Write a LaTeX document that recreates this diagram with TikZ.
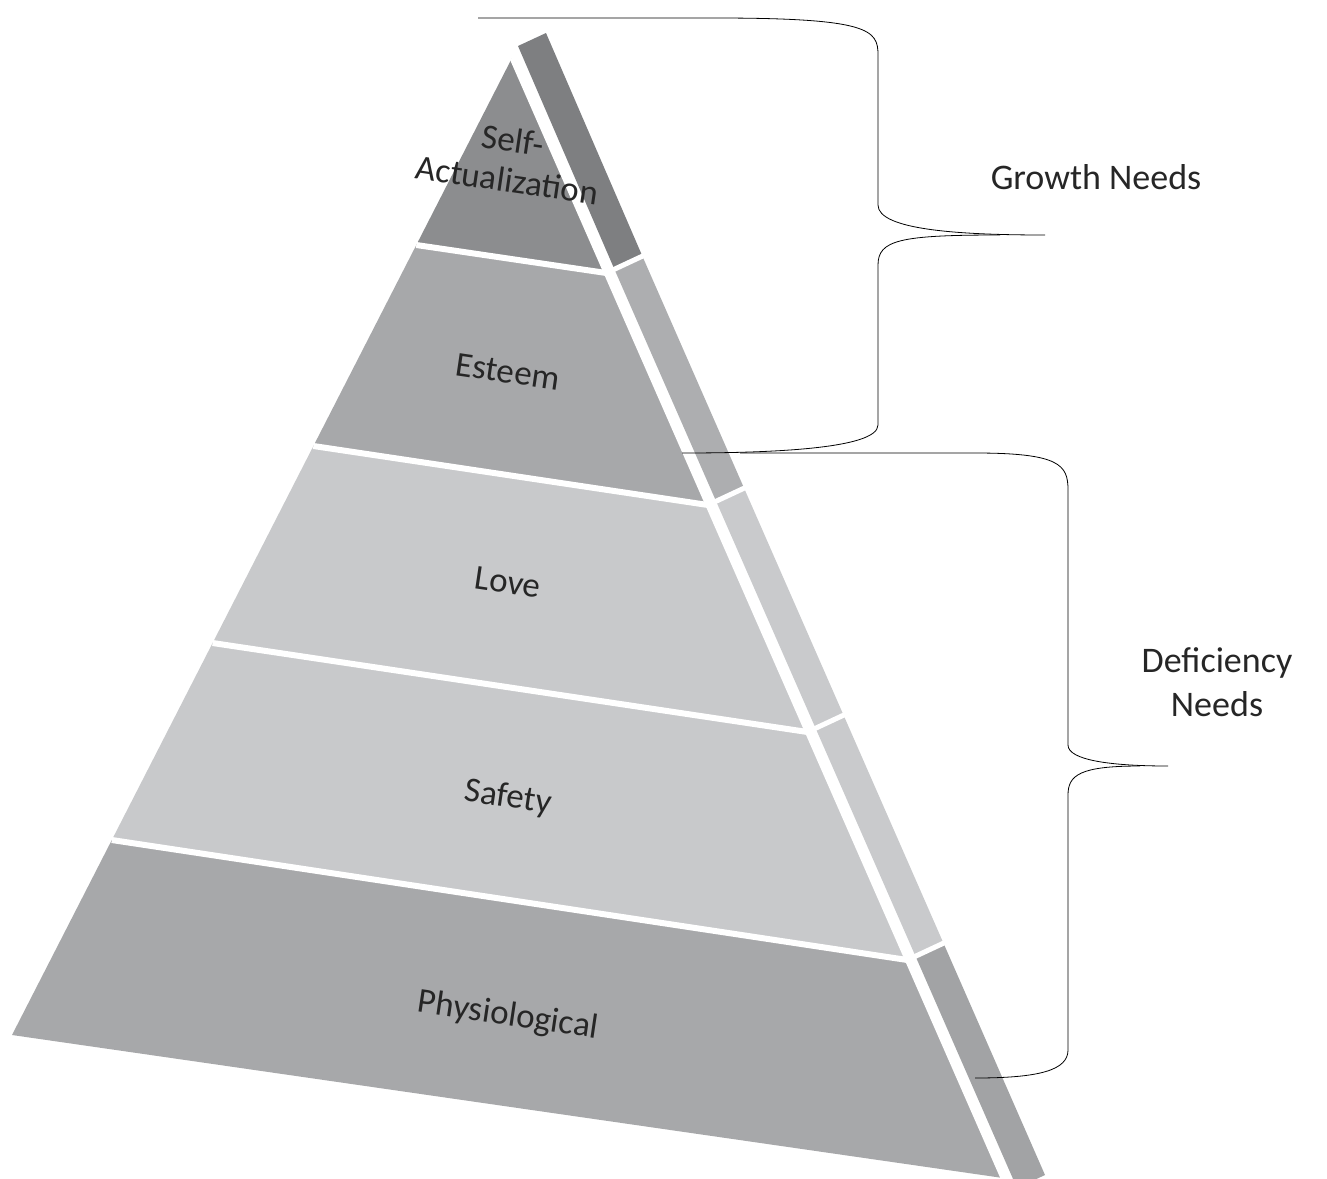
\documentclass[tikz,border=0pt]{standalone}
\usepackage{fontspec}
\setmainfont{Carlito}
\usetikzlibrary{calc}
\begin{document}
\begin{tikzpicture}[x=1pt,y=-1pt,
  gap/.style={white,line width=6pt},
  brace/.style={black,line width=0.8pt},
  lbl/.style={font=\fontsize{35}{36}\selectfont,text=black!85,rotate=-8.4,align=center,inner sep=0pt},
  side/.style={font=\fontsize{36}{44}\selectfont,text=black!85,align=center}]
\useasboundingbox (0,0) rectangle (1327,1178);
\definecolor{c1}{HTML}{8C8D8F}\definecolor{c2}{HTML}{A7A8AA}\definecolor{c3}{HTML}{C8C9CB}
\definecolor{s1}{HTML}{7E7F81}\definecolor{s2}{HTML}{ADAEB0}\definecolor{s3}{HTML}{C9CACC}\definecolor{s5}{HTML}{A2A3A5}
% front bands
\coordinate (A) at (512,58);
\coordinate (L1) at (416.3,245); \coordinate (R1) at (606.3,273);
\coordinate (L2) at (313.4,446); \coordinate (R2) at (708,505);
\coordinate (L3) at (212.6,643); \coordinate (R3) at (807.5,732);
\coordinate (L4) at (111.8,840); \coordinate (R4) at (907.4,960);
\coordinate (L5) at (12,1035); \coordinate (R5) at (1003,1178);
\fill[c1] (A) -- (L1) -- (R1) -- cycle;
\fill[c2] (L1) -- (L2) -- (R2) -- (R1) -- cycle;
\fill[c3] (L2) -- (L3) -- (R3) -- (R2) -- cycle;
\fill[c3] (L3) -- (L4) -- (R4) -- (R3) -- cycle;
\fill[c2] (L4) -- (L5) -- (R5) -- (R4) -- cycle;
% side strip
\fill[s1] ($(A)+(6,-12)$) -- ($(A)+(34,-25)$) -- ($(R1)+(36,-17)$) -- ($(R1)+(8,-4)$) -- cycle;
\fill[s2] ($(R1)+(8,-4)$) -- ($(R1)+(36,-17)$) -- ($(R2)+(36,-17)$) -- ($(R2)+(8,-4)$) -- cycle;
\fill[s3] ($(R2)+(8,-4)$) -- ($(R2)+(36,-17)$) -- ($(R4)+(36,-17)$) -- ($(R4)+(8,-4)$) -- cycle;
\fill[s5] ($(R4)+(8,-4)$) -- ($(R4)+(36,-17)$) -- ($(R5)+(42,-3)$) -- ($(R5)+(14,10)$) -- cycle;
% gaps
\draw[gap] (L1) -- (R1); \draw[gap] (L2) -- (R2); \draw[gap] (L3) -- (R3); \draw[gap] (L4) -- (R4);
\draw[gap,line width=5pt] (A) -- (R5);
\foreach \p in {R1,R2,R3,R4} \draw[gap,line width=5pt] (\p) -- ($(\p)+(45,-21)$);
% labels
\node[lbl] (t1) at (510,160) {Self-\\[4pt]Actualization};
\node[lbl] (t2) at (508,372) {Esteem};
\node[lbl] (t3) at (508,582) {Love};
\node[lbl] (t4) at (508,798) {Safety};
\node[lbl] (t5) at (508,1016) {Physiological};
% braces
\draw[brace] (478,18) -- (715,18) .. controls (870,18) and (878,30) .. (878,55) -- (878,205)
  .. controls (878,230) and (960,235) .. (1045,235);
\draw[brace] (1000,235) .. controls (900,235) and (878,240) .. (878,265) -- (878,425)
  .. controls (878,450) and (760,453) .. (682,453);
\draw[brace] (740,453) -- (975,453) .. controls (1060,453) and (1068,465) .. (1068,490) -- (1068,745)
  .. controls (1068,760) and (1110,766) .. (1168,766);
\draw[brace] (1140,766) .. controls (1080,766) and (1068,775) .. (1068,795) -- (1068,1050)
  .. controls (1068,1070) and (1040,1078) .. (975,1078);
\node[side] (g) at (1096,177) {Growth Needs};
\node[side] (d) at (1217,682) {Deficiency\\Needs};
\end{tikzpicture}
\end{document}
